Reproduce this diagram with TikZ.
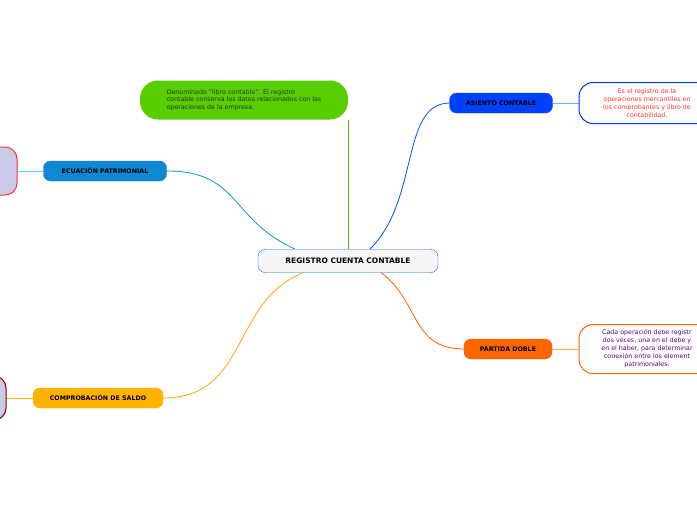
\documentclass[tikz,border=0pt]{standalone}
\usepackage{fontspec}
\setmainfont{DejaVu Sans}
\begin{document}
\begin{tikzpicture}[x=1pt,y=-1pt,
 topic/.style={rounded corners=7pt,minimum height=20pt,font=\fontsize{6.3}{7}\selectfont\bfseries,inner sep=2pt},
 desc/.style={rounded corners=14pt,draw,line width=1pt,fill=white,align=center,font=\fontsize{6.3}{8}\selectfont},
 link/.style={line width=0.8pt}]
\clip (0,0) rectangle (697,520);
\fill[white] (0,0) rectangle (697,520);
% connectors
\draw[link,draw=green!50!black!60!yellow] (348,120) -- (348,249);
\draw[link,draw=blue!70!cyan] (370,249) .. controls (420,200) and (400,103) .. (450,103);
\draw[link,draw=cyan!80!blue] (295,249) .. controls (230,220) and (240,171) .. (167,171);
\draw[link,draw=orange!70!red] (380,272) .. controls (420,300) and (410,349) .. (464,349);
\draw[link,draw=orange!70!yellow] (305,272) .. controls (230,300) and (250,398) .. (163,398);
\draw[cyan!60] (17,171) -- (44,171);
\draw[orange!50!yellow] (6,398) -- (33,398);
\draw[blue!50!cyan!60] (553,103) -- (579,103);
\draw[orange!60] (552,349) -- (579,349);
% nodes
\node[topic,draw=blue!60!cyan,fill=gray!8,minimum width=180pt,minimum height=23pt,font=\fontsize{7.5}{8}\selectfont\bfseries] (c) at (348,261) {REGISTRO CUENTA CONTABLE};
\node[rounded corners=18pt,fill=green!55!olive!85!yellow,minimum width=208pt,minimum height=39pt,align=left,font=\fontsize{6.3}{7.5}\selectfont,text=black!80] (g) at (244,100) {Denominado "libro contable". El registro\\contable conserva los datos relacionados con las\\operaciones de la empresa.};
\node[topic,fill=blue!75!cyan,draw=blue!60!cyan,minimum width=103pt] (a) at (501,103) {ASIENTO CONTABLE};
\node[topic,fill=cyan!70!blue,draw=cyan!60!blue,minimum width=123pt] (e) at (105,171) {ECUACIÓN PATRIMONIAL};
\node[topic,fill=orange!80!red,draw=orange!70!red,minimum width=88pt] (p) at (508,349) {PARTIDA DOBLE};
\node[topic,fill=orange!60!yellow,draw=orange!60!yellow,minimum width=130pt] (s) at (98,398) {COMPROBACIÓN DE SALDO};
\node[desc,draw=blue!80!cyan,text=red!80,minimum width=136pt,minimum height=41pt] (ad) at (647,103) {Es el registro de la\\operaciones mercantiles en\\los comprobantes y libro de\\contabilidad.};
\node[desc,draw=orange!80!red,text=violet!80!black,minimum width=136pt,minimum height=49pt] (pd) at (647,349) {Cada operación debe registr\\dos veces, una en el debe y\\en el haber, para determinar\\conexión entre los element\\patrimoniales.};
\node[rounded corners=12pt,draw=red!80,line width=1pt,fill=cyan!20!blue!20,minimum width=60pt,minimum height=48pt] (el) at (-13,171) {};
\node[rounded corners=12pt,draw=red!50!black,line width=1pt,fill=cyan!20!blue!20,minimum width=60pt,minimum height=44pt] (sl) at (-24,398) {};
\end{tikzpicture}
\end{document}
